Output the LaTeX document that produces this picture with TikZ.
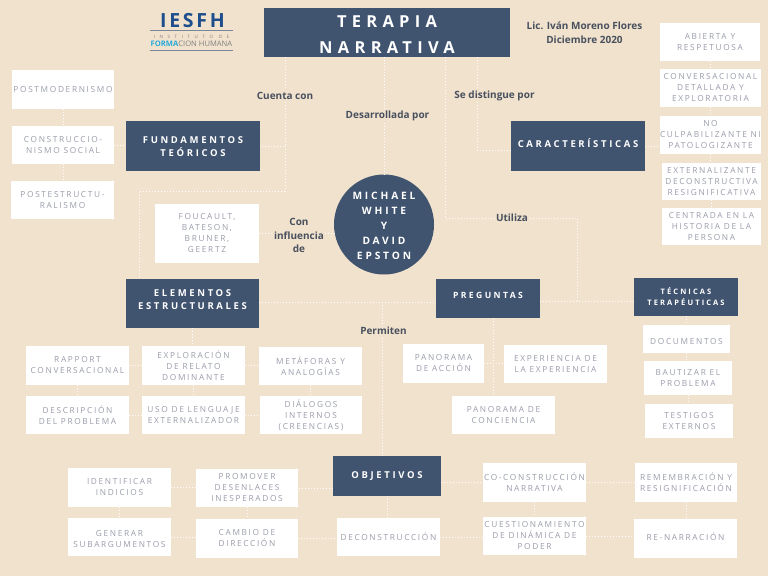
\documentclass[tikz,border=0pt]{standalone}
\usepackage{fontspec}
\usetikzlibrary{calc}
\newfontfamily\thinfont[LetterSpace=20]{Open Sans}
\newfontfamily\headfont[LetterSpace=28,BoldFont={Open Sans Bold}]{Open Sans}
\newfontfamily\titlefont[LetterSpace=32,BoldFont={Open Sans Bold}]{Open Sans}
\newfontfamily\labelfont[BoldFont={Open Sans Bold}]{Open Sans}
\definecolor{sand}{HTML}{F1E2CD}
\definecolor{slate}{HTML}{40536F}
\definecolor{ashtext}{HTML}{9A9EAA}
\definecolor{inktext}{HTML}{48505E}
\definecolor{logoblue}{HTML}{1F4E8C}
\definecolor{logocyan}{HTML}{25A9DC}
\tikzset{
	whitebox/.style={fill=white, inner sep=0pt, align=center, text=ashtext, font=\thinfont\fontsize{8.3}{11}\selectfont},
	darkbox/.style={fill=slate, inner sep=0pt, align=center, text=white, font=\headfont\bfseries\fontsize{9.5}{13.5}\selectfont},
	linklabel/.style={fill=sand, inner sep=1.5pt, align=center, text=inktext, font=\labelfont\bfseries\fontsize{10}{13.5}\selectfont},
	dotlink/.style={draw=white, line width=0.7pt, dash pattern=on 1pt off 2pt}
}

\begin{document}
\begin{tikzpicture}[x=1pt, y=-1pt]
	\fill[sand] (0,0) rectangle (768,576);
	\useasboundingbox (0,0) rectangle (768,576);

	% logo
	\node[inner sep=0pt, text=logoblue, font=\labelfont\bfseries\fontsize{19.5}{20}\selectfont] (logoname) at (192.5,21) {\addfontfeature{LetterSpace=14}IESFH};
	\node[inner sep=0pt, text=gray, font=\labelfont\fontsize{4.5}{5}\selectfont] (logoinst) at (191.5,36.5) {\addfontfeature{LetterSpace=102}INSTITUTO DE};
	\node[inner sep=0pt, text=gray, font=\labelfont\fontsize{7.6}{7}\selectfont] (logoform) at (191.5,44) {\textcolor{logocyan}{\bfseries FORMA}CION HUMANA};
	\draw[slate!70, line width=0.8pt] (150,30) -- (233,30);
	\draw[slate!70, line width=0.8pt] (150,50) -- (233,50);

	% top
	\node[darkbox, minimum width=246pt, minimum height=49pt, text height=42pt, font=\titlefont\bfseries\fontsize{16.5}{26}\selectfont] (title) at (387,32.5) {TERAPIA\\NARRATIVA};
	\node[inner sep=0pt, align=center, text=inktext, font=\labelfont\bfseries\fontsize{10}{13.5}\selectfont] (author) at (584.5,32.5) {Lic. Iván Moreno Flores\\Diciembre 2020};
	\node[darkbox, circle, minimum size=100pt, text height=71pt, font=\headfont\bfseries\fontsize{10.2}{15}\selectfont] (white) at (384,224.5) {MICHAEL\\WHITE\\Y\\DAVID\\EPSTON};

	% fundamentos
	\node[darkbox, minimum width=134pt, minimum height=50pt, text height=22pt] (fund) at (193,146) {FUNDAMENTOS\\TEÓRICOS};
	\node[whitebox, minimum width=102pt, minimum height=39pt] (post) at (63,89.5) {POSTMODERNISMO};
	\node[whitebox, minimum width=102pt, minimum height=38pt] (cons) at (63,145) {CONSTRUCCIO-\\NISMO SOCIAL};
	\node[whitebox, minimum width=103pt, minimum height=38pt] (postes) at (62.5,200) {POSTESTRUCTU-\\RALISMO};
	\node[whitebox, minimum width=104pt, minimum height=59pt] (fou) at (207,233.5) {FOUCAULT,\\BATESON,\\BRUNER,\\GEERTZ};

	% caracteristicas
	\node[darkbox, minimum width=134pt, minimum height=50pt, text depth=5pt] (carac) at (578,146) {CARACTERÍSTICAS};
	\node[whitebox, minimum width=100pt, minimum height=38pt] (abierta) at (710,42) {ABIERTA Y\\RESPETUOSA};
	\node[whitebox, minimum width=101pt, minimum height=38pt] (conv) at (710.5,88) {CONVERSACIONAL\\DETALLADA Y\\EXPLORATORIA};
	\node[whitebox, minimum width=101pt, minimum height=38pt] (nocul) at (710.5,135) {NO\\CULPABILIZANTE NI\\PATOLOGIZANTE};
	\node[whitebox, minimum width=99pt, minimum height=37pt] (exter) at (711.5,181.5) {EXTERNALIZANTE\\DECONSTRUCTIVA\\RESIGNIFICATIVA};
	\node[whitebox, minimum width=99pt, minimum height=37pt] (centr) at (711.5,226.5) {CENTRADA EN LA\\HISTORIA DE LA\\PERSONA};

	% elementos
	\node[darkbox, minimum width=133pt, minimum height=49pt, text depth=8pt] (elem) at (192.5,303.5) {ELEMENTOS\\ESTRUCTURALES};
	\node[whitebox, minimum width=103pt, minimum height=39pt] (rapport) at (77.5,365.5) {RAPPORT\\CONVERSACIONAL};
	\node[whitebox, minimum width=103pt, minimum height=39pt] (explo) at (193.5,365.5) {EXPLORACIÓN\\DE RELATO\\DOMINANTE};
	\node[whitebox, minimum width=103pt, minimum height=38pt] (meta) at (310.5,366) {METÁFORAS Y\\ANALOGÍAS};
	\node[whitebox, minimum width=103pt, minimum height=38pt] (desc) at (77.5,415) {DESCRIPCIÓN\\DEL PROBLEMA};
	\node[whitebox, minimum width=103pt, minimum height=38pt] (uso) at (193.5,415) {USO DE LENGUAJE\\EXTERNALIZADOR};
	\node[whitebox, minimum width=102pt, minimum height=38pt] (dial) at (311,415) {DIÁLOGOS\\INTERNOS\\(CREENCIAS)};

	% preguntas
	\node[darkbox, minimum width=104pt, minimum height=39pt, text depth=6pt, font=\headfont\bfseries\fontsize{8.6}{13}\selectfont] (preg) at (488,298.5) {PREGUNTAS};
	\node[whitebox, minimum width=81pt, minimum height=39pt] (panacc) at (443.5,363.5) {PANORAMA\\DE ACCIÓN};
	\node[whitebox, minimum width=103pt, minimum height=38pt] (expe) at (555.5,364) {EXPERIENCIA DE\\LA EXPERIENCIA};
	\node[whitebox, minimum width=103pt, minimum height=38pt] (pancon) at (503.5,415) {PANORAMA DE\\CONCIENCIA};

	% tecnicas
	\node[darkbox, minimum width=104pt, minimum height=38pt, font=\headfont\bfseries\fontsize{7.5}{11}\selectfont] (tec) at (686,297) {TÉCNICAS\\TERAPÉUTICAS};
	\node[whitebox, minimum width=87pt, minimum height=28pt, text height=11pt] (docu) at (686.5,339) {DOCUMENTOS};
	\node[whitebox, minimum width=88pt, minimum height=34pt] (baut) at (688,378) {BAUTIZAR EL\\PROBLEMA};
	\node[whitebox, minimum width=88pt, minimum height=34pt] (test) at (689,421) {TESTIGOS\\EXTERNOS};

	% objetivos
	\node[darkbox, minimum width=108pt, minimum height=40pt] (obj) at (387,476) {OBJETIVOS};
	\node[whitebox, minimum width=103pt, minimum height=39pt] (ident) at (119.5,487.5) {IDENTIFICAR\\INDICIOS};
	\node[whitebox, minimum width=102pt, minimum height=38pt] (prom) at (247,488) {PROMOVER\\DESENLACES\\INESPERADOS};
	\node[whitebox, minimum width=103pt, minimum height=38pt, text height=22pt] (gene) at (119.5,537) {GENERAR\\SUBARGUMENTOS};
	\node[whitebox, minimum width=102pt, minimum height=39pt] (camb) at (247,538.5) {CAMBIO DE\\DIRECCIÓN};
	\node[whitebox, minimum width=103pt, minimum height=38pt] (decon) at (388.5,537) {DECONSTRUCCIÓN};
	\node[whitebox, minimum width=103pt, minimum height=39pt] (coco) at (534.5,482.5) {CO-CONSTRUCCIÓN\\NARRATIVA};
	\node[whitebox, minimum width=103pt, minimum height=38pt] (cues) at (534.5,536) {CUESTIONAMIENTO\\DE DINÁMICA DE\\PODER};
	\node[whitebox, minimum width=102pt, minimum height=39pt] (reme) at (686,482.5) {REMEMBRACIÓN Y\\RESIGNIFICACIÓN};
	\node[whitebox, minimum width=103pt, minimum height=39pt, text depth=3pt] (rena) at (685.5,538.5) {RE-NARRACIÓN};

	% turning points
	\coordinate (cuentaturn) at (285,146);
	\coordinate (cuentadown) at (285,191);
	\coordinate (cuentaleft) at (139,191);
	\coordinate (distturn) at (477,150);
	\coordinate (usaturn) at (445,218);
	\coordinate (usaright) at (577,218);
	\coordinate (usadown) at (577,301);
	\coordinate (permturn) at (382,302);
	\coordinate (pregdown) at (493,364);

	% links from the title
	\draw[dotlink] (cuentaturn |- title.south) -- (cuentaturn) -- (fund.east);
	\draw[dotlink] (cuentaturn) -- (cuentadown) -- (cuentaleft) -- (cuentaleft |- elem.north);
	\draw[dotlink] (white.north |- title.south) -- (white.north);
	\draw[dotlink] (distturn |- title.south) -- (distturn) -- (distturn -| carac.west);
	\draw[dotlink] (usaturn |- title.south) -- (usaturn) -- (usaright) -- (usadown);
	\draw[dotlink] (white.190 -| fou.east) -- (white.190);

	% links in the left column
	\draw[dotlink] (post.south) -- (cons.north);
	\draw[dotlink] (cons.south) -- (cons.south |- postes.north);
	\draw[dotlink] (cons.east) -- (cons.east -| fund.west);

	% links in the right column
	\draw[dotlink] (carac.east) -- (carac.east -| nocul.west);
	\draw[dotlink] (abierta.south) -- (abierta.south |- conv.north);
	\draw[dotlink] (conv.south) -- (conv.south |- nocul.north);
	\draw[dotlink] (nocul.south) -- (nocul.south |- exter.north);
	\draw[dotlink] (exter.south) -- (exter.south |- centr.north);

	% links in the middle row
	\draw[dotlink] (permturn -| elem.east) -- (permturn) -- (permturn -| preg.west);
	\draw[dotlink] (usadown -| preg.east) -- (usadown -| tec.west);
	\draw[dotlink] (permturn) -- (permturn |- obj.north);
	\draw[dotlink] (elem.south) -- (elem.south |- explo.north);
	\draw[dotlink] (rapport.east) -- (rapport.east -| explo.west);
	\draw[dotlink] (explo.east) -- (explo.east -| meta.west);
	\draw[dotlink] (rapport.south) -- (desc.north);
	\draw[dotlink] (explo.south) -- (uso.north);
	\draw[dotlink] (meta.south) -- (meta.south |- dial.north);
	\draw[dotlink] (desc.east) -- (uso.west);
	\draw[dotlink] (uso.east) -- (dial.west);
	\draw[dotlink] (pregdown |- preg.south) -- (pregdown |- pancon.north);
	\draw[dotlink] (panacc.east) -- (panacc.east -| expe.west);
	\draw[dotlink] (tec.south) -- (tec.south |- docu.north);
	\draw[dotlink] (docu.south) -- (docu.south |- baut.north);
	\draw[dotlink] (baut.south) -- (baut.south |- test.north);

	% links in the bottom rows
	\draw[dotlink] (obj.west |- prom.east) -- (prom.east);
	\draw[dotlink] (ident.east) -- (ident.east -| prom.west);
	\draw[dotlink] (ident.south) -- (gene.north);
	\draw[dotlink] (prom.south) -- (camb.north);
	\draw[dotlink] (gene.east) -- (gene.east -| camb.west);
	\draw[dotlink] (camb.east) -- (camb.east -| decon.west);
	\draw[dotlink] (obj.south) -- (obj.south |- decon.north);
	\draw[dotlink] (decon.east) -- (decon.east -| cues.west);
	\draw[dotlink] (obj.east |- coco.west) -- (coco.west);
	\draw[dotlink] (coco.east) -- (reme.west);
	\draw[dotlink] (coco.south) -- (cues.north);
	\draw[dotlink] (cues.east) -- (cues.east -| rena.west);
	\draw[dotlink] (reme.south) -- (reme.south |- rena.north);

	% labels on the links
	\node[linklabel] (cuentalab) at (285,95.5) {Cuenta con};
	\node[linklabel] (desalab) at (387.5,115.5) {Desarrollada por};
	\node[linklabel] (distlab) at (494.5,95.5) {Se distingue por};
	\node[linklabel] (usalab) at (512,217.5) {Utiliza};
	\node[linklabel, inner sep=0pt] (conlab) at (299,235.5) {Con\\influencia\\de};
	\node[linklabel] (permlab) at (383.5,331) {Permiten};
\end{tikzpicture}
\end{document}
